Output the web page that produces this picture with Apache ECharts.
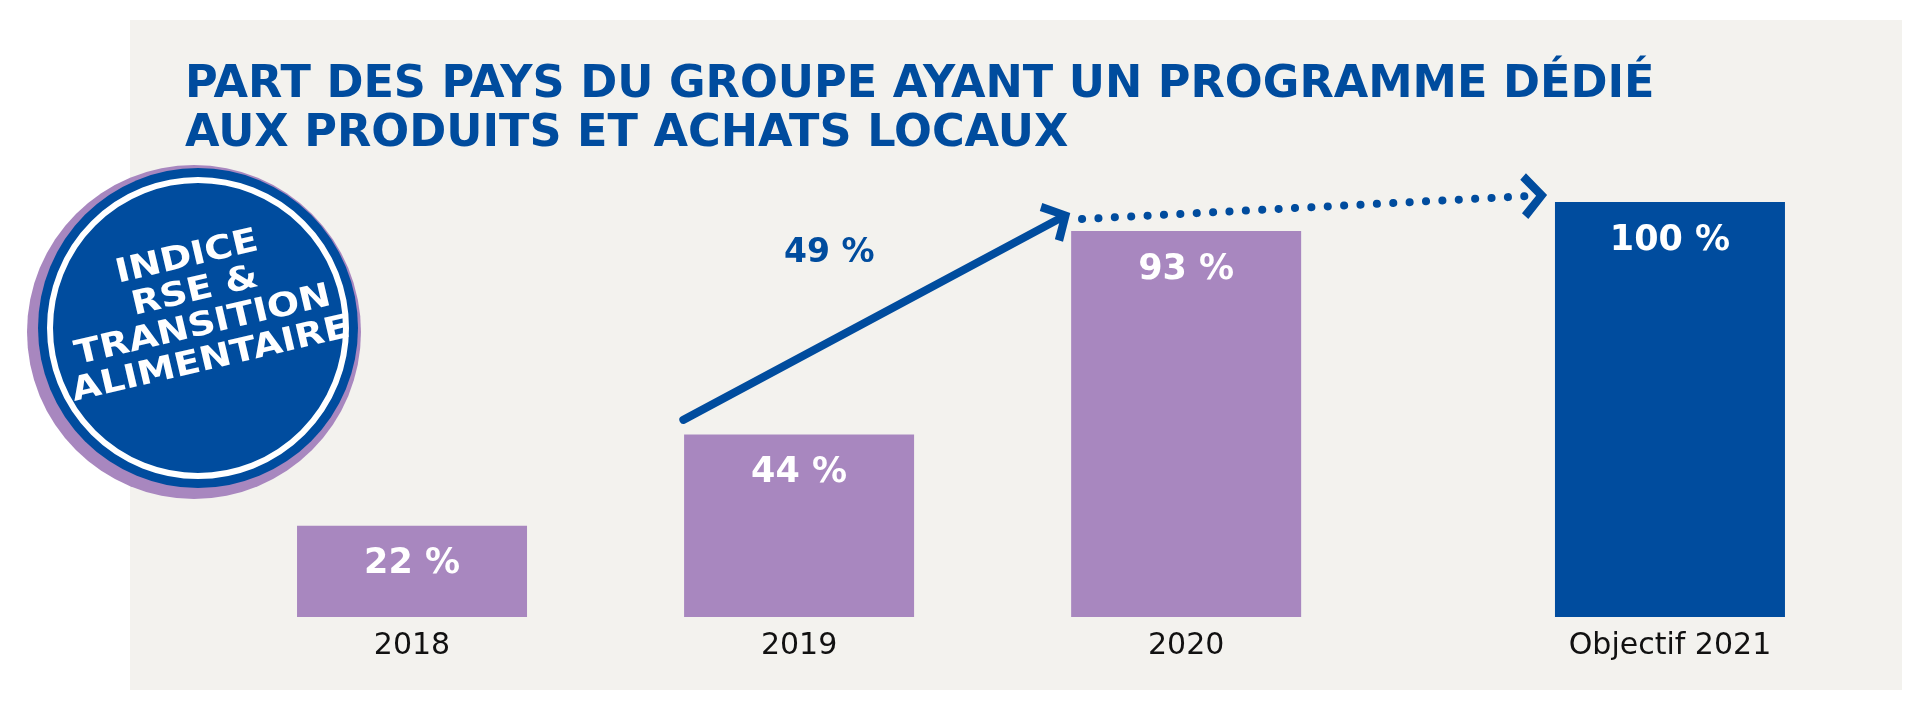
<!DOCTYPE html>
<html>
<head>
<meta charset="utf-8">
<script src="https://cdn.jsdelivr.net/npm/echarts@6/dist/echarts.min.js"></script>
<style>
  html, body { margin: 0; padding: 0; background: #ffffff; }
  #chart { width: 1922px; height: 709px; }
</style>
</head>
<body>
<div id="chart"></div>
<script>
// data
const categories = ["2018", "2019", "2020", "Objectif 2021"];
const values = [22, 44, 93, 100];
// slot of each category on the x axis (the target bar stands a bit apart)
const slots = [0, 1, 2, 3.25];

const purple = "#a887bf";
const blue = "#004c9e";
const font = "DejaVu Sans";

var dom = document.getElementById("chart");
var myChart = echarts.init(dom, null, { renderer: "canvas" });

// open chevron pointing up, used as arrow head
const chevron = "path://M22,0 L44,20 L38,26 L22,11 L6,26 L0,20 Z";

const barData = values.map(function (v, i) {
  return {
    value: [slots[i], v],
    itemStyle: { color: i === 3 ? blue : purple },
  };
});

var option = {
  animation: false,
  title: {
    text: "PART DES PAYS DU GROUPE AYANT UN PROGRAMME DÉDIÉ\nAUX PRODUITS ET ACHATS LOCAUX",
    left: 180,
    top: 56,
    textStyle: {
      fontFamily: font,
      fontSize: 44.6,
      fontWeight: "bold",
      color: blue,
      lineHeight: 49,
    },
  },
  graphic: [
    {
      type: "rect",
      z: -1,
      shape: { x: 130, y: 20, width: 1772, height: 670 },
      style: { fill: "#f3f2ee" },
    },
    {
      type: "group",
      z: 10,
      children: [
        { type: "circle", shape: { cx: 194, cy: 332, r: 167 }, style: { fill: purple } },
        { type: "circle", shape: { cx: 198, cy: 328, r: 160 }, style: { fill: blue } },
        {
          type: "circle",
          shape: { cx: 198, cy: 328, r: 148 },
          style: { fill: "none", stroke: "#ffffff", lineWidth: 6 },
        },
        {
          type: "text",
          x: 199,
          y: 309,
          rotation: 0.23,
          scaleX: 1.15,
          style: {
            text: "INDICE\nRSE &\nTRANSITION\nALIMENTAIRE",
            font: "bold 33px " + font,
            fill: "#ffffff",
            lineHeight: 35,
            align: "center",
            verticalAlign: "middle",
          },
        },
      ],
    },
  ],
  grid: { left: 218.5, right: 58.5, top: 160.5, bottom: 92 },
  xAxis: {
    type: "value",
    min: -0.5,
    max: 3.75,
    interval: 0.25,
    axisLine: { show: false },
    axisTick: { show: false },
    splitLine: { show: false },
    axisLabel: {
      margin: 14,
      fontFamily: font,
      fontSize: 30,
      color: "#111111",
      formatter: function (v) {
        var i = slots.indexOf(v);
        return i >= 0 ? categories[i] : "";
      },
    },
  },
  yAxis: { type: "value", min: 0, max: 110, show: false },
  series: [
    {
      type: "bar",
      barWidth: 230,
      data: barData,
      label: {
        show: true,
        position: "insideTop",
        distance: 21,
        fontFamily: font,
        fontSize: 35,
        fontWeight: "bold",
        color: "#ffffff",
        formatter: function (p) {
          return p.value[1] + " %";
        },
      },
      markLine: {
        silent: true,
        label: { show: false },
        data: [
          [
            {
              coord: [0.701, 47.5],
              symbol: "none",
              lineStyle: { color: blue, width: 8, type: "solid", cap: "round" },
            },
            { coord: [1.671, 95.9], symbol: chevron, symbolSize: [44, 26] },
          ],
          [
            {
              coord: [1.731, 95.9],
              symbol: "none",
              lineStyle: { color: blue, width: 8, type: [0.1, 16.3], cap: "round" },
            },
            { coord: [2.899, 101.5], symbol: chevron, symbolSize: [46, 26] },
          ],
        ],
      },
      markPoint: {
        silent: true,
        symbol: "circle",
        symbolSize: 1,
        itemStyle: { color: "rgba(0,0,0,0)" },
        label: {
          show: true,
          position: "inside",
          formatter: values[2] - values[1] + " %",
          fontFamily: font,
          fontSize: 33,
          fontWeight: "bold",
          color: blue,
        },
        data: [{ coord: [1.078, 87.5] }],
      },
    },
  ],
};

myChart.setOption(option);
window.addEventListener("resize", myChart.resize);
</script>
</body>
</html>
